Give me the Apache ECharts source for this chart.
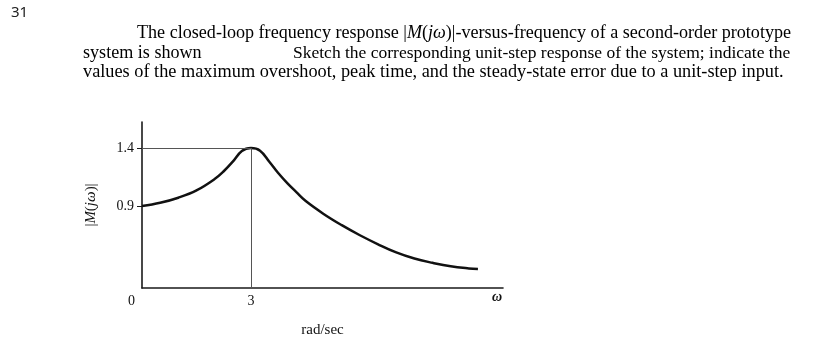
<!DOCTYPE html>
<html><head><meta charset="utf-8">
<script src="https://cdn.jsdelivr.net/npm/echarts@6/dist/echarts.min.js"></script>
<style>html,body{margin:0;padding:0;background:#fff}#c{width:821px;height:343px}</style>
</head><body><div id="c"></div>
<script>
const problemNumber = '31';
const line1 = 'The closed-loop frequency response |{i|M}({i|jω})|-versus-frequency of a second-order prototype';
const line2a = 'system is shown';
const line2b = 'Sketch the corresponding unit-step response of the system; indicate the';
const line3 = 'values of the maximum overshoot, peak time, and the steady-state error due to a unit-step input.';

const omega     = [0, 0.5, 1.0, 1.5, 2.0, 2.25, 2.5, 2.75, 3.0, 3.25, 3.5, 3.75, 4.0, 4.25, 4.5, 5.0, 5.5, 6.0, 6.5, 7.0, 7.5, 8.0, 8.5, 9.0, 9.25];
const magnitude = [0.9, 0.928, 0.972, 1.035, 1.133, 1.2, 1.283, 1.375, 1.40, 1.378, 1.285, 1.185, 1.098, 1.02, 0.945, 0.832, 0.735, 0.648, 0.57, 0.50, 0.447, 0.41, 0.38, 0.362, 0.357];

const xTickValues = [0, 3];
const yTickValues = [0.9, 1.4];
const peakOmega = 3;
const peakMagnitude = 1.4;
const xAxisName = 'ω';
const xUnitName = 'rad/sec';
const yAxisName = '|{i|M}({i|jω})|';

const xMin = 0, xMax = 9.94, yMin = 0.193, yMax = 1.625;

const serif = 'Liberation Serif';
function para(size) {
  return {fontFamily: serif, fontSize: size, fontWeight: 'normal', color: '#000', lineHeight: 18,
    rich: {i: {fontFamily: serif, fontSize: size, fontStyle: 'italic', color: '#000'}}};
}
const axisColor = '#1a1a1a';

const chart = echarts.init(document.getElementById('c'), null, {renderer: 'canvas'});
chart.setOption({
  backgroundColor: '#fff',
  animation: false,
  title: [
    {text: problemNumber, left: 11, top: 5, padding: 0, textStyle: {fontFamily: 'Noto Sans', fontSize: 15, fontWeight: 'normal', color: '#222'}},
    {text: line1, left: 137, top: 24, padding: 0, textStyle: para(18.1)},
    {text: line2a, left: 83, top: 44, padding: 0, textStyle: para(18.1)},
    {text: line2b, left: 293, top: 44, padding: 0, textStyle: para(17.5)},
    {text: line3, left: 83, top: 63, padding: 0, textStyle: para(18.3)}
  ],
  grid: {left: 142, right: 318, top: 122, bottom: 55, containLabel: false},
  xAxis: [
    {
      type: 'value', min: xMin, max: xMax, position: 'bottom',
      axisLine: {show: true, onZero: false, lineStyle: {color: axisColor, width: 1.6}},
      axisTick: {show: false},
      splitLine: {show: false},
      axisLabel: {
        customValues: xTickValues, margin: 6,
        fontFamily: serif, fontSize: 14, color: '#111',
        formatter: v => v === 0 ? '{z|0}' : String(v),
        rich: {z: {padding: [0, 21, 0, 0], fontFamily: serif, fontSize: 14, color: '#111'}}
      },
      name: xAxisName, nameLocation: 'end', nameGap: -6,
      nameTextStyle: {fontFamily: serif, fontStyle: 'italic', fontWeight: 'bold', fontSize: 14, color: '#111',
        align: 'center', verticalAlign: 'top', padding: [2, 0, 0, 0]}
    },
    {
      type: 'value', min: xMin, max: xMax, position: 'bottom',
      axisLine: {show: false}, axisTick: {show: false}, axisLabel: {show: false}, splitLine: {show: false},
      name: xUnitName, nameLocation: 'middle', nameGap: 35,
      nameTextStyle: {fontFamily: serif, fontSize: 15, color: '#111'}
    }
  ],
  yAxis: {
    type: 'value', min: yMin, max: yMax,
    axisLine: {show: true, onZero: false, lineStyle: {color: axisColor, width: 1.6}},
    axisTick: {show: true, customValues: yTickValues, length: 5, lineStyle: {color: axisColor, width: 1}},
    splitLine: {show: false},
    axisLabel: {customValues: yTickValues, margin: 8, fontFamily: serif, fontSize: 14, color: '#111',
      formatter: v => v.toFixed(1)},
    name: yAxisName, nameLocation: 'middle', nameRotate: 90, nameGap: 43,
    nameTextStyle: {fontFamily: serif, fontSize: 15, color: '#111',
      rich: {i: {fontFamily: serif, fontSize: 15, fontStyle: 'italic', color: '#111'}}}
  },
  series: [{
    type: 'line', xAxisIndex: 0,
    data: omega.map((w, i) => [w, magnitude[i]]),
    smooth: 0.4, showSymbol: false, symbol: 'none',
    lineStyle: {color: '#111', width: 2.5},
    markLine: {
      silent: true, symbol: ['none', 'none'], label: {show: false},
      lineStyle: {color: '#555', width: 1, type: 'solid'},
      data: [
        [{coord: [xMin, peakMagnitude]}, {coord: [peakOmega, peakMagnitude]}],
        [{coord: [peakOmega, peakMagnitude]}, {coord: [peakOmega, yMin]}]
      ]
    }
  }]
});
</script></body></html>
